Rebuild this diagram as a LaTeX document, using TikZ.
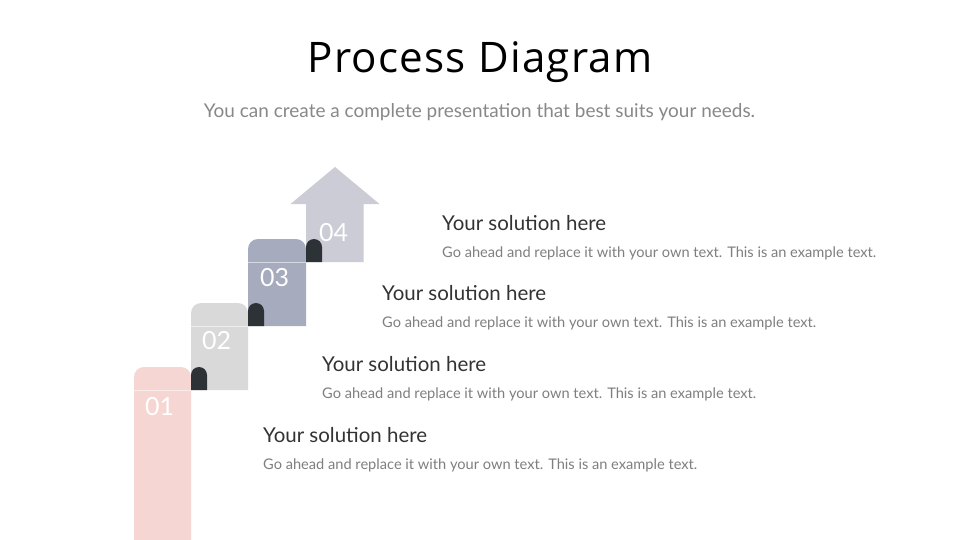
\documentclass[tikz,border=0pt]{standalone}
\usepackage{fontspec}
\setmainfont{Lato}
\newfontfamily\titlefont{Open Sans}[LetterSpace=3]
\usepackage{graphicx}
\definecolor{pinkstep}{HTML}{F6D6D3}
\definecolor{graystep}{HTML}{D9D9D9}
\definecolor{bluestep}{HTML}{A6ABBD}
\definecolor{lavstep}{HTML}{CBCCD5}
\definecolor{tabdark}{HTML}{2D3236}
\definecolor{headgray}{HTML}{333333}
\definecolor{bodygray}{HTML}{7F7F7F}
\definecolor{subgray}{HTML}{888888}
\newcommand\fitto[2]{\resizebox{#1pt}{!}{#2}}
\tikzset{
  stepshape/.style={draw=none},
  tabshape/.style={fill=tabdark, draw=none},
  faintline/.style={draw=white, draw opacity=0.55, line width=0.7pt},
  numlabel/.style={text=white, font=\fontsize{25}{25}\selectfont, inner sep=0pt, anchor=base west},
  headlabel/.style={text=headgray, inner sep=0pt, anchor=base west},
  bodylabel/.style={text=bodygray, inner sep=0pt, anchor=base west},
}
\begin{document}
\begin{tikzpicture}[x=1pt,y=-1pt]
\useasboundingbox[fill=white] (0,0) rectangle (960,540);
% title
\node[inner sep=0pt, anchor=base] (title) at (480,73) {\fitto{345}{\titlefont Process Diagram}};
\node[inner sep=0pt, anchor=base, text=subgray] (subtitle) at (479.5,118) {\fitto{551}{You can create a complete presentation that best suits your needs.}};
% steps
\fill[pinkstep, rounded corners=10pt] (134,540) -- (134,367) -- (191,367) [sharp corners] -- (191,540) -- cycle;
\fill[graystep, rounded corners=10pt] (191,390) -- (191,303) -- (248,303) [sharp corners] -- (248,390) -- cycle;
\fill[bluestep, rounded corners=10pt] (248,326) -- (248,239) -- (306,239) [sharp corners] -- (306,326) -- cycle;
\fill[lavstep] (306,262) -- (306,204) -- (290.5,204) -- (335,167) -- (379.5,204) -- (363.5,204) -- (363.5,262) -- cycle;
% faint lines
\coordinate (l1a) at (134,390); \coordinate (l1b) at (191,390);
\coordinate (l2a) at (191,326); \coordinate (l2b) at (248,326);
\coordinate (l3a) at (248,262); \coordinate (l3b) at (306,262);
\draw[faintline] (l1a) -- (l1b);
\draw[faintline] (l2a) -- (l2b);
\draw[faintline] (l3a) -- (l3b);
% tabs
\fill[tabshape] (191,390) -- (191,375) arc[start angle=180, end angle=360, radius=8] -- (207,390) -- cycle;
\fill[tabshape] (248,326) -- (248,311) arc[start angle=180, end angle=360, radius=8] -- (264,326) -- cycle;
\fill[tabshape] (306,262) -- (306,247) arc[start angle=180, end angle=360, radius=8] -- (322,262) -- cycle;
% numbers
\node[numlabel] (n1) at (145,415) {01};
\node[numlabel] (n2) at (202,349.5) {02};
\node[numlabel] (n3) at (260,286) {03};
\node[numlabel] (n4) at (319,241) {04};
% texts
\node[headlabel] (h4) at (442,230) {\fitto{164}{Your solution here}};
\node[bodylabel] (b4) at (442,257) {\fitto{434}{Go ahead and replace it with your own text. This is an example text.}};
\node[headlabel] (h3) at (382,300.7) {\fitto{164}{Your solution here}};
\node[bodylabel] (b3) at (382,327.7) {\fitto{434}{Go ahead and replace it with your own text. This is an example text.}};
\node[headlabel] (h2) at (322,371.3) {\fitto{164}{Your solution here}};
\node[bodylabel] (b2) at (322,398.3) {\fitto{434}{Go ahead and replace it with your own text. This is an example text.}};
\node[headlabel] (h1) at (263,442) {\fitto{164}{Your solution here}};
\node[bodylabel] (b1) at (263,469) {\fitto{434}{Go ahead and replace it with your own text. This is an example text.}};
\end{tikzpicture}
\end{document}
